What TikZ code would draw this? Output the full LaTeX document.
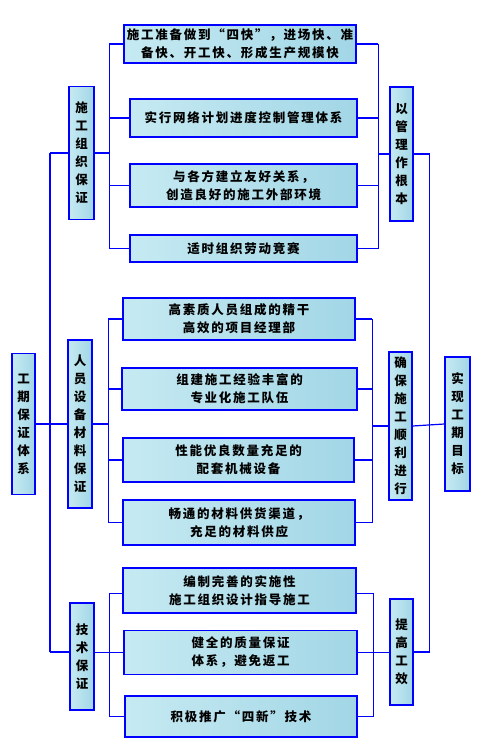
\documentclass[tikz,border=0pt]{standalone}
\usepackage{fontspec}
\setmainfont{Noto Sans CJK SC}[LetterSpace=14]
\newfontfamily\vfont{Noto Sans CJK SC}
\definecolor{lineblue}{RGB}{0,0,255}
\definecolor{waterA}{RGB}{198,234,242}
\definecolor{waterB}{RGB}{162,214,230}
\tikzset{
  box/.style={draw=lineblue, line width=1.2pt, left color=waterA, right color=waterB,
    inner sep=0pt, align=center, font=\fontsize{12.5}{18}\selectfont\bfseries, text=black},
  vbox/.style={box, font=\vfont\fontsize{12.5}{18}\selectfont\bfseries},
  conn/.style={draw=lineblue, line width=1.2pt}
}
\begin{document}
\begin{tikzpicture}[x=1pt,y=-1pt]
\useasboundingbox[fill=white] (0,0) rectangle (484,746);
% horizontal boxes
\node[box, minimum width=232pt, minimum height=38pt] (b1) at (240,44) {施工准备做到“四快”，进场快、准\\备快、开工快、形成生产规模快};
\node[box, minimum width=227pt, minimum height=38pt] (b2) at (243.5,118) {实行网络计划进度控制管理体系};
\node[box, minimum width=227pt, minimum height=43pt] (b3) at (243.5,185.5) {与各方建立友好关系，\\创造良好的施工外部环境};
\node[box, minimum width=227pt, minimum height=27pt] (b4) at (243.5,248.5) {适时组织劳动竞赛};
\node[box, minimum width=232pt, minimum height=42pt] (b5) at (239,319) {高素质人员组成的精干\\高效的项目经理部};
\node[box, minimum width=235pt, minimum height=42pt] (b6) at (239.5,389) {组建施工经验丰富的\\专业化施工队伍};
\node[box, minimum width=231pt, minimum height=44pt] (b7) at (238.5,460) {性能优良数量充足的\\配套机械设备};
\node[box, minimum width=232pt, minimum height=45pt] (b8) at (239,522.5) {畅通的材料供货渠道，\\充足的材料供应};
\node[box, minimum width=233pt, minimum height=45pt] (b9) at (239.5,590.5) {编制完善的实施性\\施工组织设计指导施工};
\node[box, minimum width=233pt, minimum height=44pt] (b10) at (240.5,652.5) {健全的质量保证\\体系，避免返工};
\node[box, minimum width=232pt, minimum height=41pt] (b11) at (241,716.5) {积极推广“四新”技术};
% vertical boxes
\node[vbox, minimum width=25pt, minimum height=133pt] (A) at (81.5,153) {施\\工\\组\\织\\保\\证};
\node[vbox, minimum width=24pt, minimum height=168pt] (B) at (80,424) {人\\员\\设\\备\\材\\料\\保\\证};
\node[vbox, minimum width=24pt, minimum height=107pt] (C) at (82,656.5) {技\\术\\保\\证};
\node[vbox, minimum width=23pt, minimum height=141pt] (D) at (23.5,424) {工\\期\\保\\证\\体\\系};
\node[vbox, minimum width=23pt, minimum height=134pt] (E) at (401.5,154) {以\\管\\理\\作\\根\\本};
\node[vbox, minimum width=23pt, minimum height=148pt] (F) at (400.5,426) {确\\保\\施\\工\\顺\\利\\进\\行};
\node[vbox, minimum width=23pt, minimum height=106pt] (G) at (401.5,652) {提\\高\\工\\效};
\node[vbox, minimum width=25pt, minimum height=134pt] (H) at (457.5,424) {实\\现\\工\\期\\目\\标};
% bracket coordinates
\coordinate (lt) at (50,0);
\coordinate (rt) at (429.3,0);
\coordinate (l1) at (109.3,0);
\coordinate (r1) at (378.3,0);
\coordinate (l2) at (108.3,0);
\coordinate (r2) at (372.3,0);
\coordinate (l3) at (109.3,0);
\coordinate (r3) at (373.3,0);
\coordinate (c9l) at (109.3,593.3);
\coordinate (c9r) at (373.3,593.3);
\coordinate (cy) at (0,652);
% left trunk
\path[conn] (A.west -| lt) -- (lt |- cy);
\path[conn] (A.west -| lt) -- (A.west);
\path[conn] (lt |- cy) -- (C.west |- cy);
\path[conn] (D.east) -- (B.west);
% right trunk
\path[conn] (E.east) -- (E.east -| rt) -- (rt |- G.east) -- (G.east);
\path[conn] (F.east) -- (H.west);
% top brackets
\path[conn] (b1.west -| l1) -- (b4.west -| l1);
\foreach \b in {b1,b2,b3,b4} \path[conn] (\b.west -| l1) -- (\b.west);
\path[conn] (A.east) -- (A.east -| l1);
\path[conn] (b1.east -| r1) -- (b4.east -| r1);
\foreach \b in {b1,b2,b3,b4} \path[conn] (\b.east) -- (\b.east -| r1);
\path[conn] (E.west) -- (E.west -| r1);
% middle brackets
\path[conn] (b5.west -| l2) -- (b8.west -| l2);
\foreach \b in {b5,b6,b7,b8} \path[conn] (\b.west -| l2) -- (\b.west);
\path[conn] (B.east) -- (B.east -| l2);
\path[conn] (b5.east -| r2) -- (b8.east -| r2);
\foreach \b in {b5,b6,b7,b8} \path[conn] (\b.east) -- (\b.east -| r2);
\path[conn] (F.west) -- (F.west -| r2);
% bottom brackets
\path[conn] (c9l) -- (b11.west -| l3);
\path[conn] (c9l) -- (c9l -| b9.west);
\path[conn] (b11.west -| l3) -- (b11.west);
\path[conn] (C.east |- b10.west) -- (b10.west);
\path[conn] (c9r) -- (b11.east -| r3);
\path[conn] (c9r -| b9.east) -- (c9r);
\path[conn] (b11.east) -- (b11.east -| r3);
\path[conn] (b10.east) -- (G.west |- b10.east);
\end{tikzpicture}
\end{document}
